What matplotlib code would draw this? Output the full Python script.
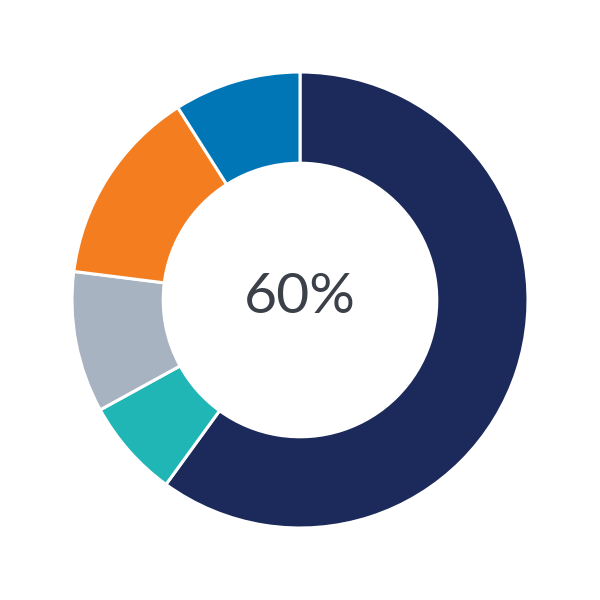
import matplotlib
matplotlib.use("Agg")
import matplotlib.pyplot as plt

# slice shares, clockwise from 12 o'clock
labels = ["Navy", "Teal", "Gray", "Orange", "Blue"]
shares = [60, 7, 10, 14, 9]
colors = ["#1b2a5a", "#1fb6b5", "#a8b3c2", "#f47d20", "#0076b6"]
center_text = "60%"

fig = plt.figure(figsize=(6, 6), dpi=100)
ax = fig.add_axes([0, 0, 1, 1])

ax.pie(shares, colors=colors, startangle=90, counterclock=False,
       radius=1.0,
       wedgeprops=dict(width=0.40, edgecolor="white", linewidth=2.2))

ax.text(0, 0.01, center_text, ha="center", va="center",
        fontsize=41, family="Lato", fontweight="normal", color="#3b4049")

lim = 300 / 228
ax.set_xlim(-lim, lim)
ax.set_ylim(-lim, lim)
ax.set_aspect("equal")
ax.axis("off")

plt.savefig("out.png", dpi=100, facecolor="white")
